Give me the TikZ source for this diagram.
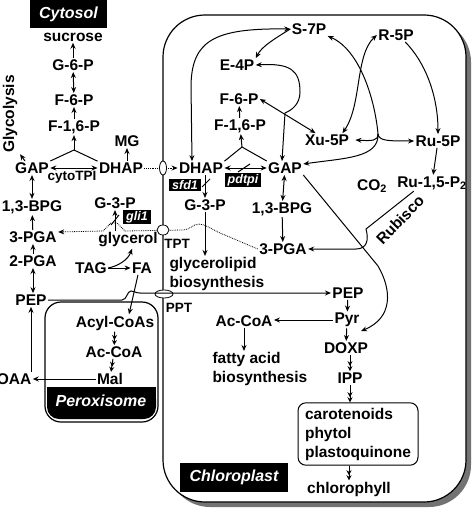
\documentclass[tikz,border=0pt]{standalone}
\usepackage{fontspec}
\setmainfont{Liberation Sans}
\usetikzlibrary{arrows.meta,calc}
\newcommand{\metfont}{\fontsize{15.5}{19}\selectfont\bfseries}
\newcommand{\minorfont}{\fontsize{13.5}{15}\selectfont\bfseries}
\newcommand{\regfont}{\fontsize{16}{18}\selectfont\bfseries\itshape}
\newcommand{\genefont}{\fontsize{12.5}{13}\selectfont\bfseries\itshape}

\begin{document}
\begin{tikzpicture}[x=1pt,y=-1pt,line width=1pt,>={Stealth[length=6pt,width=5pt]},
    met/.style={font=\metfont,inner sep=1pt},
    minor/.style={font=\minorfont,inner sep=1pt},
    region/.style={fill=black,text=white,font=\regfont,inner sep=2pt},
    gene/.style={fill=black,text=white,font=\genefont,inner xsep=3pt,inner ysep=1pt},
    ddh/.style={-{Stealth[length=5pt,width=5pt]Stealth[length=5pt,width=5pt]}},
    tptline/.style={densely dotted,line width=0.8pt},
    transporter/.style={draw,fill=white,line width=0.8pt}]
    \useasboundingbox (0,0) rectangle (474,508);
    \fill[black!55,rounded corners=42pt] (168,20) rectangle (471,507);
    \draw[fill=white,line width=1.2pt,rounded corners=42pt] (163,15) rectangle (466,502);
    \draw[line width=1.2pt,rounded corners=16pt] (45,302) rectangle (158,422);
    \fill[rounded corners=12pt] (47,387) rectangle (156,419);
    \fill (47,387) rectangle (156,400);
    % cytosol
    \node[region,minimum width=77pt,minimum height=28pt] (cytosol) at (68.5,14) {Cytosol};
    \node[met] (sucrose) at (73,37) {sucrose};
    \node[met] (g6p) at (73,65) {G-6-P};
    \node[met] (f6pc) at (74,100) {F-6-P};
    \node[met] (f16pc) at (74,127) {F-1,6-P};
    \node[met] (mg) at (127,141) {MG};
    \node[met,rotate=90] (glyc) at (10,114) {Glycolysis};
    \node[met] (gapc) at (32,168) {GAP};
    \node[minor] (cytotpi) at (72,177) {cytoTPI};
    \node[met] (dhapc) at (121,168) {DHAP};
    \node[met] (bpgc) at (32,207) {1,3-BPG};
    \node[met] (g3pc) at (115,203) {G-3-P};
    \node[gene] (gli1) at (137,217) {gli1};
    \node[met] (pgac) at (33,237) {3-PGA};
    \node[met] (glycerol) at (128,240) {glycerol};
    \node[met] (pga2) at (33,261) {2-PGA};
    \node[met] (tag) at (91,268) {TAG};
    \node[met] (fa) at (142,268) {FA};
    \node[met] (pepc) at (31,300) {PEP};
    \node[met] (acyl) at (115,323) {Acyl-CoAs};
    \node[met] (accoap) at (114,352) {Ac-CoA};
    \node[met] (mal) at (110,379) {Mal};
    \node[met] (oaa) at (14,379) {OAA};
    \node[text=white,font=\regfont] (perox) at (101,401) {Peroxisome};
    % chloroplast
    \node[met] (s7p) at (309,29) {S-7P};
    \node[met] (r5p) at (396,35) {R-5P};
    \node[met] (e4p) at (237,65) {E-4P};
    \node[met] (f6pp) at (239,99) {F-6-P};
    \node[met] (f16pp) at (240,126) {F-1,6-P};
    \node[met] (xu5p) at (327,140) {Xu-5P};
    \node[met] (ru5p) at (438,141) {Ru-5P};
    \node[met] (dhapp) at (201,168) {DHAP};
    \node[met] (gapp) at (285,168) {GAP};
    \node[gene] (sfd1) at (185,185) {sfd1};
    \node[gene] (pdtpi) at (243,180) {pdtpi};
    \node[met] (co2) at (372,186) {CO\textsubscript{2}};
    \node[met] (ru15) at (432,183) {Ru-1,5-P\textsubscript{2}};
    \node[met] (g3pp) at (205,205) {G-3-P};
    \node[met] (bpgp) at (282,209) {1,3-BPG};
    \node[met,rotate=46] (rubisco) at (400,220) {Rubisco};
    \node[minor] (tpt) at (177,244) {TPT};
    \node[met] (pgap) at (283,249) {3-PGA};
    \node[met,align=left,anchor=north west] (glipid) at (168,256) {glycerolipid\\biosynthesis};
    \node[met] (pepp) at (348,293) {PEP};
    \node[minor] (ppt) at (179,308) {PPT};
    \node[met] (pyr) at (347,320) {Pyr};
    \node[met] (accoac) at (244,321) {Ac-CoA};
    \node[met] (doxp) at (346,348) {DOXP};
    \node[met,align=left,anchor=north west] (fatty) at (211,351) {fatty acid\\biosynthesis};
    \node[met] (ipp) at (350,378) {IPP};
    \node[met,draw,rounded corners=8pt,align=left,inner xsep=3pt,inner ysep=5pt,minimum width=120pt] (iso) at (358,434) {carotenoids\\phytol\\plastoquinone};
    \node[met] (chl) at (349,489) {chlorophyll};
    \node[region,minimum width=108pt,minimum height=29pt] (chloro) at (234,477) {Chloroplast};
    \coordinate (apexc) at (74,150);
    \coordinate (apexp) at (242,147);
    \coordinate (jxu) at (378,134);
    \coordinate (jfg) at (285,113);
    \coordinate (doxpin) at (361,331);
    % cytosolic arrows
    \draw[->] (g6p) -- (sucrose);
    \draw[<->] (g6p) -- (f6pc);
    \draw[->] (f16pc) -- (f6pc);
    \draw (gapc.north east) -- (apexc) -- (dhapc.north west);
    \draw[->] (apexc) -- (f16pc);
    \draw[<->] (gapc) -- (dhapc);
    \draw[->] (dhapc.north -| mg) -- (mg);
    \draw[->] ([xshift=-7pt]gapc.north) -- ([xshift=10pt]glyc.west);
    \draw[<->] (gapc) -- (bpgc);
    \draw[->] (pgac) -- (bpgc);
    \draw[->] (pga2) -- (pgac);
    \draw[<->] (pga2) -- (pga2 |- pepc.north);
    \draw[->] (oaa.north -| pepc) -- (pepc);
    \draw[->] (mal) -- (oaa);
    \draw[ddh] (acyl) -- (accoap);
    \draw[ddh] (accoap) -- (mal);
    \draw[->] (tag) -- (fa);
    \draw[->] (tag.east) .. controls (118,266) and (128,260) .. ([xshift=4pt]glycerol.south);
    \draw[->] (glycerol.north -| g3pc) -- (g3pc);
    \draw (111,225) -- (119,215);
    \draw[->] ([xshift=-4pt]fa.south) -- ([xshift=14pt]acyl.north);
    \draw[tptline,->] (dhapc.east) -- (dhapp.west);
    \draw[tptline,->] (pgap.west) -- (220,233) .. controls (211,229) and (205,224) .. (199,224)
        .. controls (193,224) and (190,230) .. (183,230) -- (125,231) -- (117,223) -- (111,223)
        -- (103,231) -- ([yshift=5pt]pgac.east);
    \draw[transporter] (163,168) ellipse [x radius=3.5pt,y radius=7pt];
    \draw[transporter] (163,230) ellipse [x radius=6pt,y radius=5pt];
    \draw[transporter] (164,294) ellipse [x radius=9pt,y radius=4pt];
    \draw[->] (pepc.east) -- (122,300) .. controls (127,300) and (127,291) .. (131,291)
        .. controls (135,291) and (135,293) .. (140,293) -- (pepp.west);
    % chloroplast arrows
    \draw (dhapp.north east) -- (apexp) -- (gapp.north west);
    \draw[->] (apexp) -- (f16pp);
    \draw[->] (f16pp) -- (f6pp);
    \draw[<->] (dhapp) -- (gapp);
    \draw (238,172) -- (250,164);
    \draw[->] (dhapp.south -| g3pp) -- (g3pp);
    \draw (202,187) -- (210,179);
    \draw[->] (g3pp) -- (g3pp |- glipid.north);
    \draw[<->] (gapp) -- (bpgp);
    \draw[->] (bpgp) -- (pgap);
    \draw[->] ([xshift=18pt]ru15.south west) -- (366,229) .. controls (369,240) and (367,249) .. (356,249) -- (pgap.east);
    \draw[->] (gapp.south east) -- (378,266) .. controls (392,290) and (393,318) .. (doxpin);
    \draw[<->] (s7p.west) .. controls (215,28) and (192,40) .. (191,85) -- ([xshift=-9pt]dhapp.north);
    \draw[->] (s7p.west) .. controls (276,38) and (262,46) .. (e4p.north east);
    \draw[->] (jfg) .. controls (292,110) and (300,104) .. (300,92) .. controls (300,70) and (290,63) .. (e4p.east);
    \draw[<->] (f6pp.east) -- ([xshift=12pt]xu5p.north west);
    \draw[->] (jfg) -- ([xshift=-3pt]gapp.north);
    \draw[->] (jxu) .. controls (375,100) and (360,50) .. (s7p.south east);
    \draw[->] (jxu) .. controls (378,141) and (372,141) .. ([xshift=5pt]xu5p.east);
    \draw[->] (jxu) .. controls (379,141) and (388,141) .. (ru5p.west);
    \draw[->] (jxu) .. controls (379,158) and (345,158) .. ([yshift=4pt]gapp.east);
    \draw[<->] ([xshift=-8pt]xu5p.north east) .. controls (362,105) and (355,55) .. (r5p.west);
    \draw[->] ([xshift=-10pt]r5p.south east) .. controls (425,62) and (438,95) .. (ru5p.north);
    \draw[->] (ru5p) -- (ru15);
    \draw[->] (pepp) -- (pyr);
    \draw[->] (pyr) -- (doxp);
    \draw[ddh] (doxp.south -| ipp) -- (ipp);
    \draw[ddh] (ipp) -- (ipp |- iso.north);
    \draw[ddh] (iso.south -| chl) -- (chl);
    \draw[->] (pyr.west) -- (pyr.west -| accoac.east);
    \draw[->] (accoac) -- (accoac |- fatty.north);
\end{tikzpicture}
\end{document}
